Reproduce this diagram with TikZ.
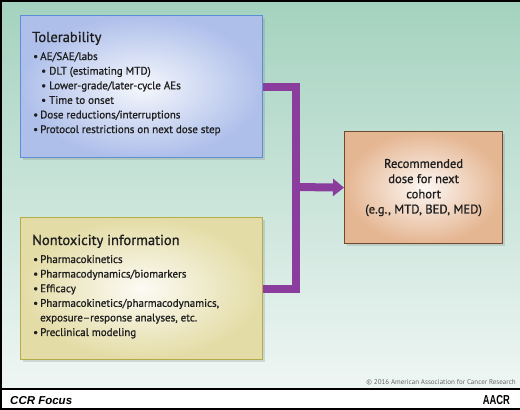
\documentclass[tikz,border=0pt]{standalone}
\usepackage{fontspec}
\setmainfont{PT Sans}[RawFeature={embolden=0.9}]
\newfontfamily\footfont{Liberation Sans}
\newfontfamily\notefont{PT Sans}
\usetikzlibrary{arrows.meta,calc,positioning,shadows}
\definecolor{Purple}{HTML}{8B3D9E}
\definecolor{TolEdge}{HTML}{5A8ED6}
\definecolor{TolFill}{HTML}{AEBFEA}
\definecolor{NonEdge}{HTML}{B4AC48}
\definecolor{NonFill}{HTML}{E4DCA6}
\definecolor{DoseEdge}{HTML}{6E4A2E}
\definecolor{DoseFill}{HTML}{E5B692}
\definecolor{BgTop}{HTML}{A4D2BF}
\definecolor{BgBottom}{HTML}{EFF6F4}
\definecolor{Ink}{HTML}{1E1E1E}
\newcommand{\itm}{\makebox[7pt][l]{•}}
\newcommand{\sitm}{\hspace{8pt}\makebox[8pt][l]{•}}

\begin{document}
\begin{tikzpicture}[x=1pt,y=-1pt,
  font=\fontsize{11}{14.6}\selectfont,
  panel/.style={draw=#1,line width=1.2pt,anchor=north west,inner sep=0pt,
    minimum width=242pt,minimum height=142pt,
    drop shadow={opacity=0.25,shadow xshift=2pt,shadow yshift=-2pt}},
  boxtitle/.style={anchor=base west,inner sep=0pt,color=Ink,
    font=\fontsize{14.5}{16}\selectfont},
  boxlist/.style={anchor=north west,inner sep=0pt,align=left,color=Ink},
  link/.style={draw=Purple,line width=8pt},
  linkarrow/.style={link,-{Triangle[length=11pt,width=17pt]}}
]
\useasboundingbox (0,0) rectangle (520,410);
% Background and frame.
\shade[top color=BgTop,bottom color=BgBottom] (0,0) rectangle (520,389);
\fill[white] (0,389) rectangle (520,410);

% Tolerability box.
\node[panel=TolEdge,inner color=TolFill!12,outer color=TolFill]
  (tolbox) at (20,15) {};
\node[boxtitle] (toltitle) at (32,42) {Tolerability};
\node[boxlist] (tollist) at (33,52)
  {\itm AE/SAE/labs\\
   \sitm DLT (estimating MTD)\\
   \sitm Lower-grade/later-cycle AEs\\
   \sitm Time to onset\\
   \itm Dose reductions/interruptions\\
   \itm Protocol restrictions on next dose step};

% Nontoxicity box.
\node[panel=NonEdge,inner color=NonFill!12,outer color=NonFill]
  (nonbox) at (20,217) {};
\node[boxtitle] (nontitle) at (32,245) {Nontoxicity information};
\node[boxlist] (nonlist) at (33,255)
  {\itm Pharmacokinetics\\
   \itm Pharmacodynamics/biomarkers\\
   \itm Efficacy\\
   \itm Pharmacokinetics/pharmacodynamics,\\
   \hspace{7pt}exposure--response analyses, etc.\\
   \itm Preclinical modeling};

% Recommended dose box.
\node[panel=DoseEdge,inner color=DoseFill!10,outer color=DoseFill,
  minimum width=158pt,minimum height=112pt,align=center,
  text=Ink,font=\fontsize{12.6}{15.2}\selectfont]
  (dosebox) at (344,131)
  {Recommended\\dose for next\\cohort\\(e.g., MTD, BED, MED)};

% Purple connector.
\coordinate (bus) at (295.5,187);
\draw[link] (tolbox.east) -| (bus) |- (nonbox.east);
\draw[linkarrow] (bus) -- (dosebox.west);

% Footer.
\node[anchor=base east,inner sep=0pt,color=black!60,
  font=\notefont\fontsize{7}{9}\selectfont] (copyright) at (516,384)
  {© 2016 American Association for Cancer Research};
\node[anchor=base west,inner sep=0pt,
  font=\footfont\bfseries\itshape\fontsize{11.5}{13}\selectfont]
  (ccrfocus) at (10,404) {CCR Focus};
\node[anchor=base east,inner sep=0pt,
  font=\footfont\bfseries\fontsize{13}{14}\selectfont]
  (aacr) at (510,404) {\scalebox{0.72}[1]{AACR}};
\draw[line width=1.5pt] (0,389) -- (520,389);
\draw[line width=2pt] (520,1) -- (1,1) -- (1,409) -- (520,409);
\end{tikzpicture}
\end{document}
